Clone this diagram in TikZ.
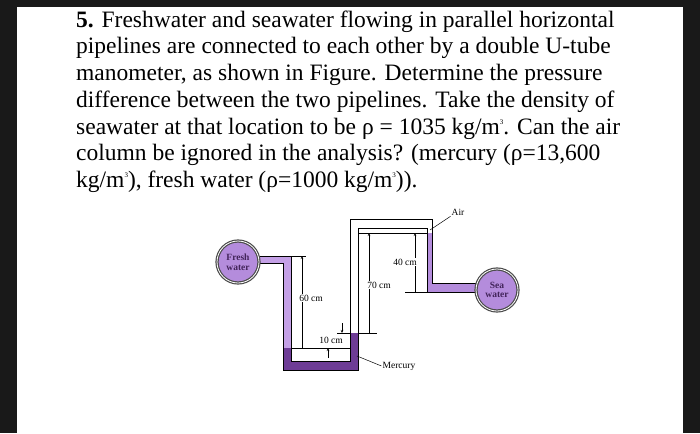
\documentclass[tikz,border=0pt]{standalone}
\usepackage{fontspec}
\setmainfont{Liberation Serif}
\usetikzlibrary{arrows.meta}
\definecolor{lw}{RGB}{196,160,230}
\definecolor{hg}{RGB}{110,60,150}
\definecolor{sea}{RGB}{180,140,220}
\newcommand{\cubed}{\raisebox{0.9ex}{\fontsize{7}{7}\selectfont 3}}
\tikzset{
 txt/.style={anchor=base west,inner sep=0pt,font=\fontsize{23.5}{23.5}\selectfont},
 lab/.style={inner sep=1pt,font=\fontsize{9.5}{10}\selectfont},
 tube/.style={line width=0.6pt},
 dim/.style={line width=0.5pt,-{Stealth[length=3pt,width=2.5pt]}},
 ext/.style={line width=0.6pt},
 pipe/.style={circle,draw=gray!60!black,line width=1.2pt,double=white,double distance=0.8pt,fill=sea,minimum size=42pt,inner sep=0pt,align=center,font=\fontsize{9.5}{9.5}\selectfont\bfseries,text=hg!60!black}
}
\begin{document}
\begin{tikzpicture}[x=1pt,y=-1pt]
\fill[black!90] (0,0) rectangle (700,433);
\fill[white] (17,7) rectangle (683,433);
\useasboundingbox (0,0) rectangle (700,433);
% text
\node[txt] (l1) at (76,28) {\textbf{5.} Freshwater and seawater flowing in parallel horizontal};
\node[txt] (l2) at (76,54) {pipelines are connected to each other by a double U-tube};
\node[txt] (l3) at (76,81) {manometer, as shown in Figure. Determine the pressure};
\node[txt] (l4) at (76,107) {difference between the two pipelines. Take the density of};
\node[txt] (l5) at (76,134) {seawater at that location to be ρ = 1035 kg/m\cubed. Can the air};
\node[txt] (l6) at (76,160) {column be ignored in the analysis? (mercury (ρ=13,600};
\node[txt] (l7) at (76,187) {kg/m\cubed), fresh water (ρ=1000 kg/m\cubed)).};
% fluids
\fill[lw] (250,256) rectangle (291,263);
\fill[lw] (283,256) rectangle (291,348);
\fill[hg] (283,348) rectangle (291,370);
\fill[hg] (283,361) rectangle (358,370);
\fill[hg] (350,333) rectangle (358,370);
\fill[sea] (427,233) rectangle (432,292);
\fill[sea] (427,283) rectangle (480,292);
% tube walls
\draw[tube] (255,256) -- (291,256) -- (291,361) -- (350,361) -- (350,219) -- (432,219) -- (432,283) -- (480,283);
\draw[tube] (255,263) -- (283,263) -- (283,370) -- (358,370) -- (358,228) -- (427,228) -- (427,292) -- (480,292);
% circles
\node[pipe] (fw) at (238,262) {Fresh\\water};
\node[pipe] (sw) at (497,290) {Sea\\water};
% dimension lines
\draw[ext] (291,256) -- (306,256);
\draw[ext] (291,348) -- (350,348);
\draw[ext] (337,333) -- (350,333);
\draw[ext] (358,233) -- (427,233);
\draw[ext] (358,333) -- (377,333);
\draw[ext] (405,292) -- (427,292);
\coordinate (a60) at (302,256); \coordinate (b60) at (302,348);
\draw[dim,{Stealth[length=3pt,width=2.5pt]}-] (a60) -- (b60);
\coordinate (a70) at (369,233); \coordinate (b70) at (369,333);
\draw[dim,{Stealth[length=3pt,width=2.5pt]}-] (a70) -- (b70);
\coordinate (a40) at (415,233); \coordinate (b40) at (415,292);
\draw[dim,{Stealth[length=3pt,width=2.5pt]}-] (a40) -- (b40);
\coordinate (t10) at (342,323); \coordinate (u10) at (342,333);
\draw[dim] (t10) -- (u10);
\coordinate (t11) at (328,358); \coordinate (u11) at (328,348);
\draw[dim] (t11) -- (u11);
\node[lab,fill=white] (n60) at (311,298) {60 cm};
\node[lab,fill=white] (n70) at (379,285) {70 cm};
\node[lab,fill=white] (n40) at (405,262) {40 cm};
\node[lab] (n10) at (331,340) {10 cm};
\node[lab] (air) at (458,212) {Air};
\node[lab] (hgl) at (399,366) {Mercury};
\coordinate (ap) at (430,230);
\draw[line width=0.5pt] (ap) -- (air.south west);
\coordinate (mp) at (357,356);
\draw[line width=0.5pt] (mp) -- (hgl.west);
\end{tikzpicture}
\end{document}
